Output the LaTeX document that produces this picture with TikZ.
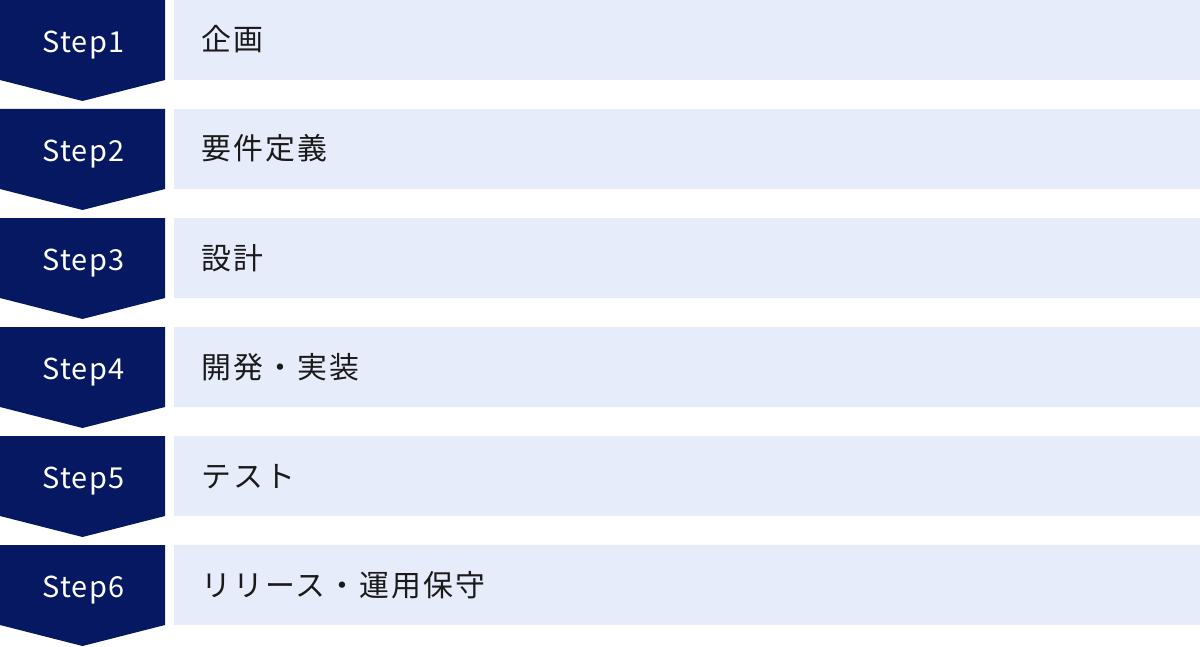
\documentclass[tikz,border=0pt]{standalone}
\usepackage{fontspec}
\newfontfamily\cjkspaced[LetterSpace=7]{Noto Sans CJK JP}
\newfontfamily\stepfont[LetterSpace=4]{Noto Sans CJK JP}
\definecolor{navy}{HTML}{061862}
\definecolor{pale}{HTML}{E6ECF9}
\definecolor{ink}{HTML}{1A1A1A}
\tikzset{
  stepshape/.style={fill=navy},
  barshape/.style={fill=pale},
  steplabel/.style={text=white,font=\stepfont\fontsize{29}{29}\selectfont,inner sep=0pt,anchor=base},
  barlabel/.style={text=ink,font=\cjkspaced\fontsize{30}{30}\selectfont,inner sep=0pt,anchor=base west},
}
\begin{document}
\begin{tikzpicture}[x=1bp,y=-1bp]
\useasboundingbox (0,0) rectangle (1200,647);
\foreach \i/\txt in {1/企画,2/要件定義,3/設計,4/開発・実装,5/テスト,6/リリース・運用保守}{
  \pgfmathsetmacro{\yy}{(\i-1)*109}
  \begin{scope}[yshift=-\yy bp]
    \fill[stepshape] (0,0) -- (165,0) -- (165,80) -- (82.5,101) -- (0,80) -- cycle;
    \fill[barshape] (174,0) rectangle (1200,80);
    \node[steplabel] (s\i) at (83.5,52.5) {Step\i};
    \node[barlabel] (t\i) at (201,51) {\txt};
  \end{scope}
}
\end{tikzpicture}
\end{document}
